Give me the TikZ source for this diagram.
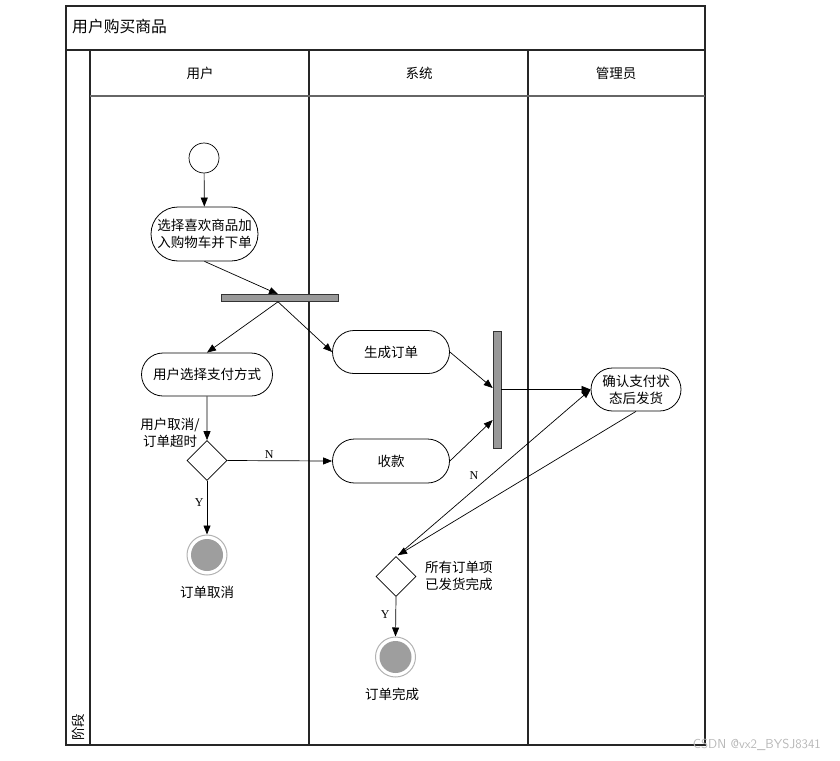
\documentclass[tikz,border=0pt]{standalone}
\usepackage{fontspec}
\newfontfamily\cjk{Noto Sans CJK SC}
\newfontfamily\lat{Liberation Serif}
\usetikzlibrary{shapes.misc,shapes.geometric,arrows.meta,calc}
\begin{document}
\begin{tikzpicture}[x=1pt,y=-1pt,
  every node/.style={font=\cjk\fontsize{13.5}{17}\selectfont, inner sep=0pt},
  lane/.style={line width=1.1pt, draw=black!85},
  act/.style={rounded rectangle, draw, line width=0.8pt, fill=white, align=center},
  bar/.style={draw=black!80, fill=black!40, line width=0.6pt},
  dec/.style={diamond, draw, line width=0.7pt, minimum width=40pt, minimum height=40pt, aspect=1},
  flow/.style={-{Triangle[length=9pt,width=7pt]}, line width=0.7pt},
  lbl/.style={font=\lat\fontsize{12}{14}\selectfont},
]
\useasboundingbox (0,0) rectangle (840,760);
% frame
\draw[lane] (66,6) rectangle (705,745);
\draw[lane] (66,50) -- (705,50);
\draw[lane] (90,50) -- (90,745);
\draw[lane] (309,50) -- (309,745);
\draw[lane] (528,50) -- (528,745);
\draw[line width=1.3pt, draw=black!60] (90,96) -- (705,96);
\node[anchor=west, font=\cjk\fontsize{15.8}{19}\selectfont] (title) at (72,27) {用户购买商品};
\node (h1) at (200,73) {用户};
\node (h2) at (419,73) {系统};
\node (h3) at (616,73) {管理员};
\node[rotate=90] (stage) at (78,727) {阶段};
% nodes
\node[circle, draw, line width=0.7pt, minimum size=30pt] (start) at (204,158) {};
\node[act, minimum width=107pt, minimum height=54pt] (sel) at (204.5,234) {选择喜欢商品加\\入购物车并下单};
\node[bar, minimum width=117pt, minimum height=7pt, rectangle] (fork) at (279.5,298) {};
\node[act, minimum width=131pt, minimum height=43pt] (pay) at (207,374.5) {用户选择支付方式};
\node[act, minimum width=117pt, minimum height=43pt] (gen) at (391,352) {生成订单};
\node[act, minimum width=117pt, minimum height=44pt] (rec) at (391,461) {收款};
\node[bar, rectangle, minimum width=8pt, minimum height=117pt] (join) at (497,389.5) {};
\node[act, minimum width=90pt, minimum height=43pt] (conf) at (636,389.5) {确认支付状\\态后发货};
\node[dec] (d1) at (207,460.5) {};
\node[align=center] (d1l) at (170,433) {用户取消/\\订单超时};
\node[dec] (d2) at (396,576.5) {};
\node[align=left, anchor=west] (d2l) at (425,576) {所有订单项\\已发货完成};
% final nodes
\node[circle, draw=black!30, line width=1pt, minimum size=40pt] (f1) at (207,555) {};
\fill[black!38] (f1) circle (16);
\node (f1l) at (207,592) {订单取消};
\node[circle, draw=black!30, line width=1pt, minimum size=40pt] (f2) at (395.5,657) {};
\fill[black!38] (f2) circle (16);
\node (f2l) at (392,694) {订单完成};
% connectors
\draw[flow] (start) -- (sel);
\draw[flow] (sel.south) -- ([xshift=-1.5pt]fork.north);
\draw[flow] ([xshift=-1.5pt]fork.south) -- (pay.north);
\draw[flow] ([xshift=-1.5pt]fork.south) -- (gen.west);
\draw[flow] (pay) -- (d1);
\draw[flow] (d1.east) -- node[lbl, above=2pt, pos=0.4] (n1) {N} (rec.west);
\draw[flow] (d1.south) -- node[lbl, left=3pt, pos=0.4] (y1) {Y} (f1.north);
\draw[flow] (gen.east) -- ($(join.west)+(0,-1.5)$);
\draw[flow] (rec.east) -- ($(join.west)+(0,30.5)$);
\draw[flow] (join.east) -- (conf.west);
\coordinate (d2top) at ($(d2.north)+(2,-1)$);
\draw[flow] (d2top) -- (conf.west);
\draw[flow] (conf.south) -- (d2top);
\node[lbl] (n2) at (474,476) {N};
\draw[flow] (d2.south) -- node[lbl, left=6pt, pos=0.45] (y2) {Y} (f2.north);
% watermark
\node[font=\fontsize{13}{15}\selectfont\sffamily, text=black!28, anchor=east] (wm) at (821,745) {CSDN @vx2\_BYSJ8341};
\end{tikzpicture}
\end{document}
